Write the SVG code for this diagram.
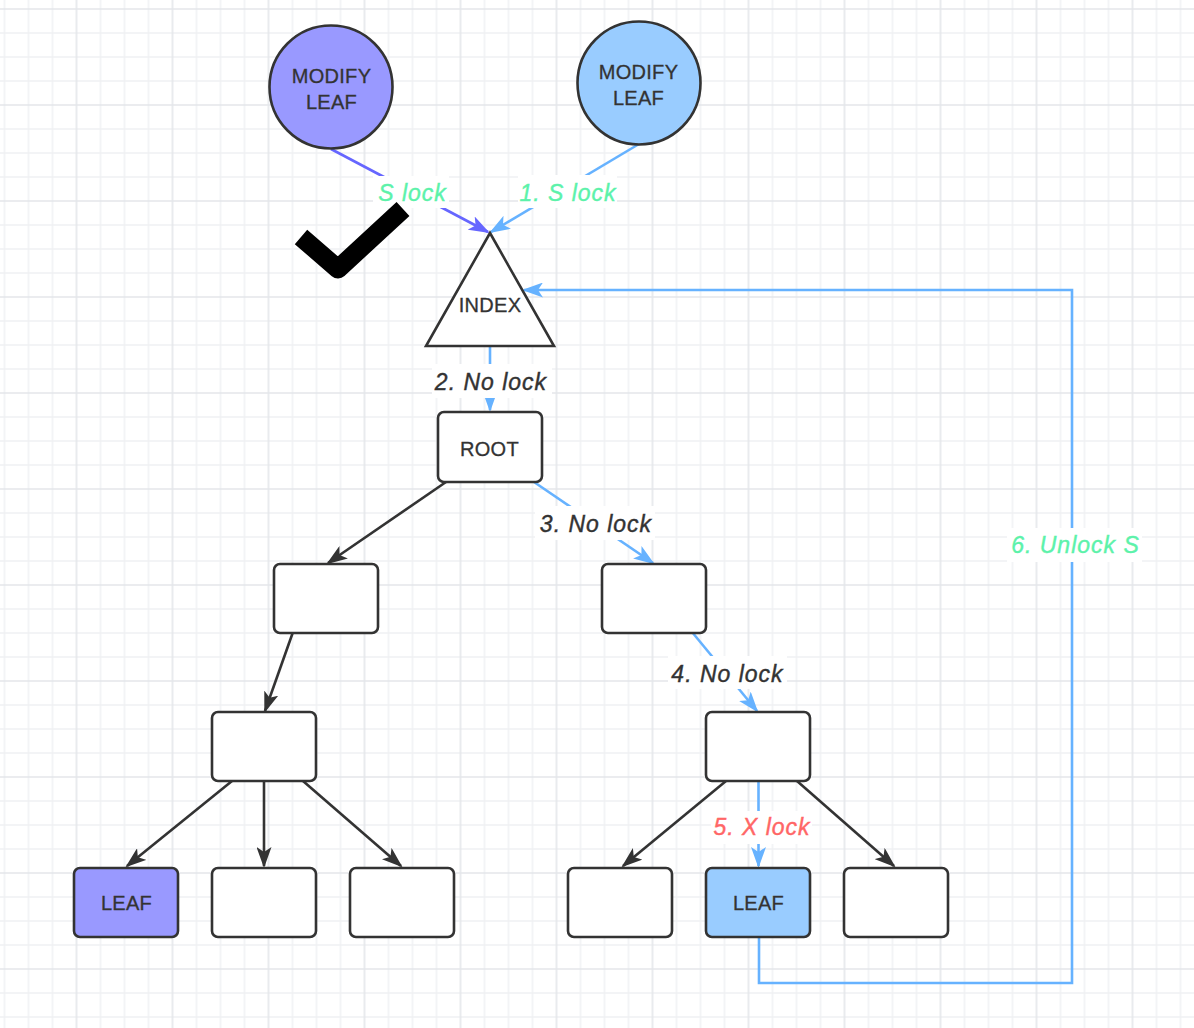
<svg xmlns="http://www.w3.org/2000/svg" width="1194" height="1028" viewBox="0 0 1194 1028">
<defs>
<style>
.node{stroke:#333333;stroke-width:2.6}
.nt{font-family:"Liberation Sans",Arial,sans-serif;font-size:20px;fill:#333333;stroke:#333333;stroke-width:0.3;text-anchor:middle;letter-spacing:0.3px}
.lbl{font-family:"Liberation Sans",Arial,sans-serif;font-size:23px;font-style:italic;text-anchor:middle;letter-spacing:1px;stroke-width:0.4}
.lbg{fill:#ffffff}
.dark{stroke:#333333;stroke-width:2.6;fill:none}
.blue{stroke:#66b2ff;stroke-width:2.6;fill:none}
.purp{stroke:#6666ff;stroke-width:2.6;fill:none}
.gmin{stroke:#eff0f3;stroke-width:1.5}
.gmaj{stroke:#e4e6ea;stroke-width:1.6}
</style>
<marker id="aDark" markerUnits="userSpaceOnUse" markerWidth="21" markerHeight="15" refX="19" refY="7.5" orient="auto"><path d="M0,0 L21,7.5 L0,15 L5,7.5 Z" fill="#333333"/></marker>
<marker id="aBlue" markerUnits="userSpaceOnUse" markerWidth="21" markerHeight="15" refX="19" refY="7.5" orient="auto"><path d="M0,0 L21,7.5 L0,15 L5,7.5 Z" fill="#66b2ff"/></marker>
<marker id="aPurp" markerUnits="userSpaceOnUse" markerWidth="21" markerHeight="15" refX="19" refY="7.5" orient="auto"><path d="M0,0 L21,7.5 L0,15 L5,7.5 Z" fill="#6666ff"/></marker>
<pattern id="grid" patternUnits="userSpaceOnUse" x="-7.5" y="-3" width="96" height="96">
<line class="gmin" x1="12" y1="0" x2="12" y2="96"/>
<line class="gmin" x1="36" y1="0" x2="36" y2="96"/>
<line class="gmin" x1="60" y1="0" x2="60" y2="96"/>
<line class="gmin" x1="0" y1="36" x2="96" y2="36"/>
<line class="gmin" x1="0" y1="60" x2="96" y2="60"/>
<line class="gmin" x1="0" y1="84" x2="96" y2="84"/>
<line class="gmaj" x1="84" y1="0" x2="84" y2="96"/>
<line class="gmaj" x1="0" y1="12" x2="96" y2="12"/>
</pattern>
</defs>
<rect x="0" y="0" width="1194" height="1028" fill="#ffffff"/>
<rect x="0" y="0" width="1194" height="1028" fill="url(#grid)"/>

<g id="connectors">
<line class="purp" x1="331" y1="149" x2="488" y2="232" marker-end="url(#aPurp)"/>
<line class="blue" x1="639" y1="144" x2="491" y2="232" marker-end="url(#aBlue)"/>
<line class="blue" x1="490" y1="347" x2="490" y2="410" marker-end="url(#aBlue)"/>
<line class="blue" x1="534" y1="482" x2="653" y2="563" marker-end="url(#aBlue)"/>
<line class="dark" x1="446" y1="482" x2="328" y2="563" marker-end="url(#aDark)"/>
<line class="dark" x1="293" y1="632" x2="265" y2="711" marker-end="url(#aDark)"/>
<line class="blue" x1="692" y1="632" x2="757" y2="711" marker-end="url(#aBlue)"/>
<line class="dark" x1="232" y1="781" x2="127" y2="866" marker-end="url(#aDark)"/>
<line class="dark" x1="264" y1="781" x2="264" y2="866" marker-end="url(#aDark)"/>
<line class="dark" x1="303" y1="781" x2="401" y2="866" marker-end="url(#aDark)"/>
<line class="dark" x1="726" y1="781" x2="623" y2="866" marker-end="url(#aDark)"/>
<line class="blue" x1="758.5" y1="781" x2="758.5" y2="866" marker-end="url(#aBlue)"/>
<line class="dark" x1="797" y1="781" x2="894" y2="866" marker-end="url(#aDark)"/>
<polyline class="blue" points="759,937 759,983 1072,983 1072,290 524,290" marker-end="url(#aBlue)"/>

<rect class="lbg" x="373" y="176" width="76" height="32"/>
<text class="lbl" x="412.5" y="201" fill="#5cf2aa" stroke="#5cf2aa">S lock</text>
<rect class="lbg" x="518" y="175" width="99" height="33"/>
<text class="lbl" x="568" y="201" fill="#5cf2aa" stroke="#5cf2aa">1. S lock</text>
<rect class="lbg" x="432" y="364" width="120" height="34"/>
<text class="lbl" x="491" y="390" fill="#333333" stroke="#333333">2. No lock</text>
<rect class="lbg" x="535" y="506" width="120" height="34"/>
<text class="lbl" x="596" y="531.5" fill="#333333" stroke="#333333">3. No lock</text>
<rect class="lbg" x="668" y="656" width="119" height="33"/>
<text class="lbl" x="727.5" y="681.5" fill="#333333" stroke="#333333">4. No lock</text>
<rect class="lbg" x="711" y="811" width="101" height="33"/>
<text class="lbl" x="762" y="835" fill="#ff6666" stroke="#ff6666">5. X lock</text>
<rect class="lbg" x="1007" y="528" width="135" height="34"/>
<text class="lbl" x="1075.5" y="553" fill="#5cf2aa" stroke="#5cf2aa">6. Unlock S</text>
</g>

<g id="modify-leaf-1">
<circle class="node" cx="331" cy="87" r="61.5" fill="#9999ff"/>
<text class="nt" x="331.5" y="83">MODIFY</text>
<text class="nt" x="331.5" y="109">LEAF</text>
</g>
<g id="modify-leaf-2">
<circle class="node" cx="639" cy="83" r="61.5" fill="#99ccff"/>
<text class="nt" x="638.5" y="79">MODIFY</text>
<text class="nt" x="638.5" y="105">LEAF</text>
</g>
<g id="check">
<path d="M301,237 L338,269 L403,209" fill="none" stroke="#000000" stroke-width="19" stroke-linejoin="round"/>
</g>
<g id="index">
<polygon class="node" points="490,233 554,346 426,346" fill="#ffffff" stroke-linejoin="miter"/>
<text class="nt" x="490" y="311.5">INDEX</text>
</g>
<g id="root">
<rect class="node" x="438" y="412" width="104" height="70" rx="6" fill="#ffffff"/>
<text class="nt" x="489.5" y="455.5">ROOT</text>
</g>
<g id="mid-left"><rect class="node" x="274" y="564" width="104" height="69" rx="6" fill="#ffffff"/></g>
<g id="mid-right"><rect class="node" x="602" y="564" width="104" height="69" rx="6" fill="#ffffff"/></g>
<g id="inner-left"><rect class="node" x="212" y="712" width="104" height="69" rx="6" fill="#ffffff"/></g>
<g id="inner-right"><rect class="node" x="706" y="712" width="104" height="69" rx="6" fill="#ffffff"/></g>
<g id="leaf-purple">
<rect class="node" x="74" y="868" width="104" height="69" rx="6" fill="#9999ff"/>
<text class="nt" x="126.5" y="910">LEAF</text>
</g>
<g id="leaf-2"><rect class="node" x="212" y="868" width="104" height="69" rx="6" fill="#ffffff"/></g>
<g id="leaf-3"><rect class="node" x="350" y="868" width="104" height="69" rx="6" fill="#ffffff"/></g>
<g id="leaf-4"><rect class="node" x="568" y="868" width="104" height="69" rx="6" fill="#ffffff"/></g>
<g id="leaf-blue">
<rect class="node" x="706" y="868" width="104" height="69" rx="6" fill="#99ccff"/>
<text class="nt" x="758.5" y="909.5">LEAF</text>
</g>
<g id="leaf-6"><rect class="node" x="844" y="868" width="104" height="69" rx="6" fill="#ffffff"/></g>
</svg>
